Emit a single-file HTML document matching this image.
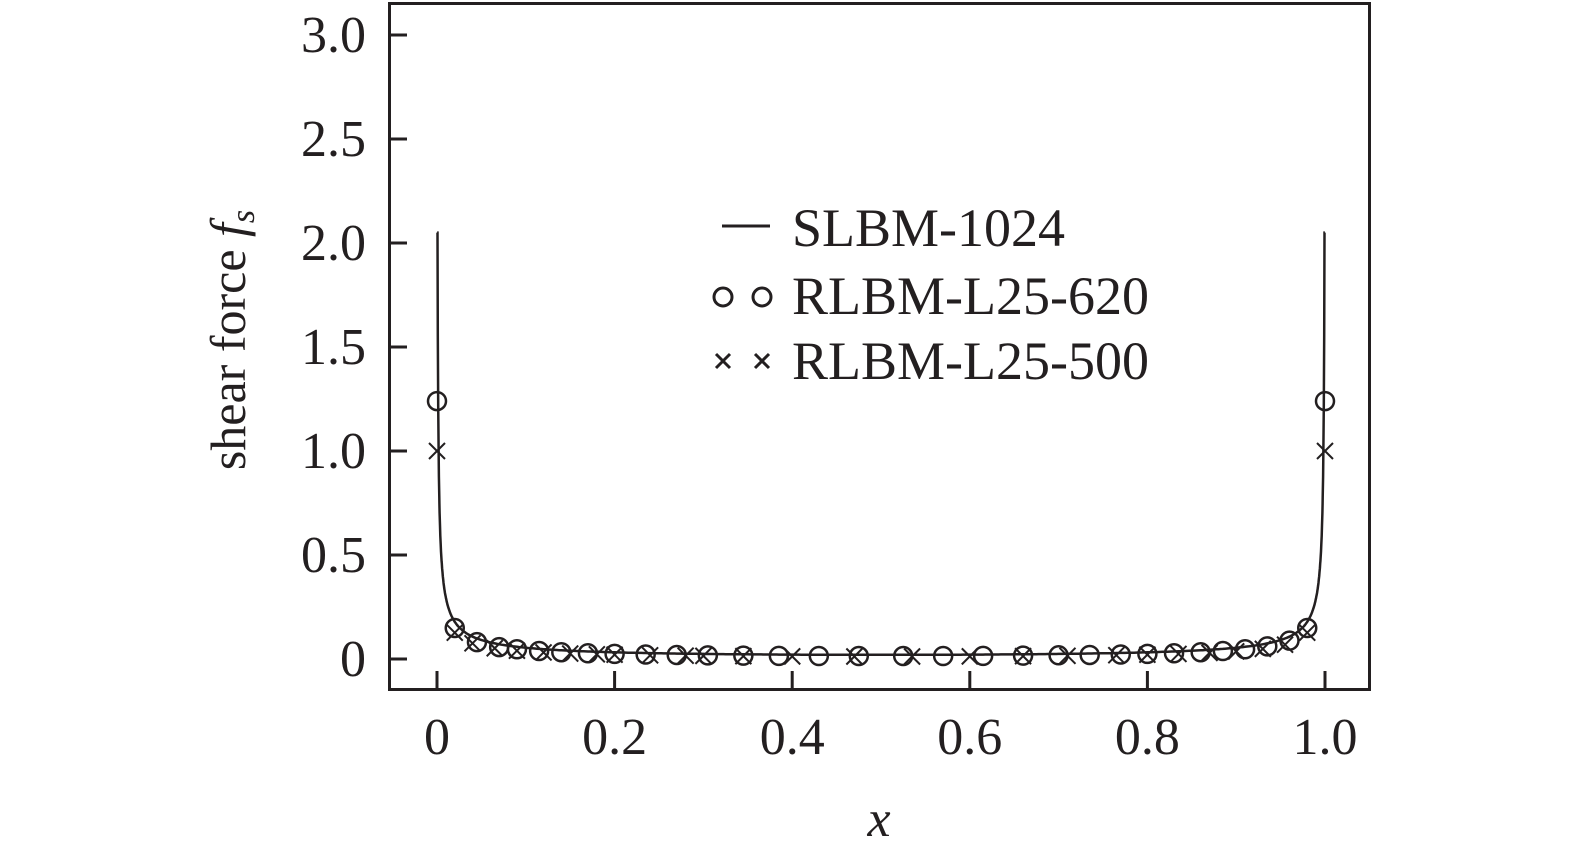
<!DOCTYPE html>
<html><head><meta charset="utf-8"><style>
html,body{margin:0;padding:0;background:#fff;}
svg{display:block;font-family:"Liberation Serif",serif;}
</style></head><body>
<svg id="s" width="1575" height="858" viewBox="0 0 1575 858" xmlns="http://www.w3.org/2000/svg">
<rect x="389.5" y="3.5" width="980" height="686" fill="none" stroke="#231f20" stroke-width="3"/>
<g stroke="#231f20" stroke-width="3">
<line x1="389" y1="659" x2="407" y2="659"/>
<line x1="389" y1="555" x2="407" y2="555"/>
<line x1="389" y1="451" x2="407" y2="451"/>
<line x1="389" y1="347" x2="407" y2="347"/>
<line x1="389" y1="243" x2="407" y2="243"/>
<line x1="389" y1="139" x2="407" y2="139"/>
<line x1="389" y1="35" x2="407" y2="35"/>
<line x1="437" y1="689" x2="437" y2="671"/>
<line x1="614.6" y1="689" x2="614.6" y2="671"/>
<line x1="792.2" y1="689" x2="792.2" y2="671"/>
<line x1="969.8" y1="689" x2="969.8" y2="671"/>
<line x1="1147.4" y1="689" x2="1147.4" y2="671"/>
<line x1="1325" y1="689" x2="1325" y2="671"/>
</g>
<g font-size="52" fill="#231f20" text-anchor="end">
<text x="366" y="676">0</text>
<text x="366" y="572">0.5</text>
<text x="366" y="468">1.0</text>
<text x="366" y="364">1.5</text>
<text x="366" y="260">2.0</text>
<text x="366" y="156">2.5</text>
<text x="366" y="52">3.0</text>
</g>
<g font-size="52" fill="#231f20" text-anchor="middle">
<text x="437" y="754">0</text>
<text x="614.6" y="754">0.2</text>
<text x="792.2" y="754">0.4</text>
<text x="969.8" y="754">0.6</text>
<text x="1147.4" y="754">0.8</text>
<text x="1325" y="754">1.0</text>
<text x="879" y="836" font-style="italic">x</text>
</g>
<text transform="translate(245,340) rotate(-90)" font-size="50" fill="#231f20" text-anchor="middle">shear force <tspan font-style="italic">f</tspan><tspan font-style="italic" font-size="34" dy="9">s</tspan></text>
<g font-size="54" fill="#231f20">
<line x1="722" y1="226" x2="770" y2="226" stroke="#231f20" stroke-width="3"/>
<text x="792" y="246">SLBM-1024</text>
<circle cx="723" cy="297" r="9" fill="none" stroke="#231f20" stroke-width="3"/>
<circle cx="762" cy="297" r="9" fill="none" stroke="#231f20" stroke-width="3"/>
<text x="792" y="314">RLBM-L25-620</text>
<g stroke="#231f20" stroke-width="3">
<path d="M716 354 l14 14 M730 354 l-14 14"/>
<path d="M755 354 l14 14 M769 354 l-14 14"/>
</g>
<text x="792" y="379">RLBM-L25-500</text>
</g>
<g id="data"></g>
</svg>
<script>
var X0=437,XS=888,Y0=659,YS=208;
function f(x){var p=0.7,a=0.012;return 0.02+a*(Math.pow(x,-p)-1.62)+a*(Math.pow(1-x,-p)-1.62);}
function fy(v){return Y0-v*YS;}
var d="",g=document.getElementById('data'),ns="http://www.w3.org/2000/svg";
var pts=[];
for(var i=0;i<=400;i++){var t=i/400;pts.push(0.0002+t*0.9996);}
for(var k=0;k<60;k++){var e=0.00015+k*0.0004;pts.push(e);pts.push(1-e);}
pts.sort(function(a,b){return a-b;});
pts.forEach(function(x,i){var v=Math.min(f(x),2.05);d+=(i?"L":"M")+(X0+x*XS).toFixed(1)+" "+fy(v).toFixed(1);});
var p=document.createElementNS(ns,'path');p.setAttribute('d',d);p.setAttribute('fill','none');p.setAttribute('stroke','#231f20');p.setAttribute('stroke-width','2.5');g.appendChild(p);
var cx=[0.02,0.045,0.07,0.09,0.115,0.14,0.17,0.2,0.235,0.27,0.305,0.345,0.385,0.43,0.475,0.525,0.57,0.615,0.66,0.7,0.735,0.77,0.8,0.83,0.86,0.885,0.91,0.935,0.96,0.98];
function mv(x){return f(x)*0.85-0.003;}
function circ(x,y){var c=document.createElementNS(ns,'circle');c.setAttribute('cx',x);c.setAttribute('cy',y);c.setAttribute('r',9);c.setAttribute('fill','none');c.setAttribute('stroke','#231f20');c.setAttribute('stroke-width','2.5');g.appendChild(c);}
function cross(x,y){var c=document.createElementNS(ns,'path');c.setAttribute('d','M'+(x-8)+' '+(y-8)+'l16 16M'+(x+8)+' '+(y-8)+'l-16 16');c.setAttribute('stroke','#231f20');c.setAttribute('stroke-width','2');g.appendChild(c);}
circ(X0,fy(1.24));circ(X0+XS,fy(1.24));
cx.forEach(function(x){circ(X0+x*XS,fy(mv(x)));});
cross(X0,fy(1.0));cross(X0+XS,fy(1.0));
var xx=[0.02,0.04,0.065,0.09,0.12,0.15,0.18,0.2,0.24,0.28,0.3,0.345,0.4,0.47,0.535,0.6,0.66,0.71,0.765,0.8,0.835,0.87,0.9,0.93,0.955,0.98];
xx.forEach(function(x){cross(X0+x*XS,fy(mv(x)*0.85));});
</script>
</body></html>
